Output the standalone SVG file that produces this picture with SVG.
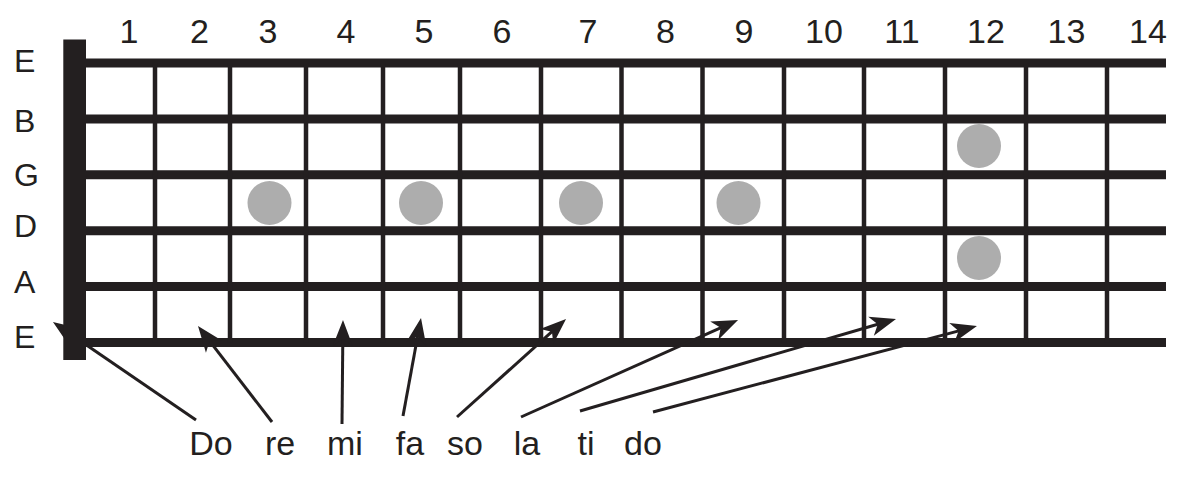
<svg xmlns="http://www.w3.org/2000/svg" width="1200" height="485" viewBox="0 0 1200 485">
<style>
.str{stroke:#231f20;stroke-width:9;fill:none}
.fret{stroke:#231f20;stroke-width:4.5;fill:none}
.dot{fill:#adadad}
.lbl{font-family:"Liberation Sans",Arial,sans-serif;fill:#231f20}
.num{font-size:34px;text-anchor:middle}
.sname{font-size:32px}
.note{font-size:34px;text-anchor:middle}
.arr{stroke:#231f20;stroke-width:3;fill:none;marker-end:url(#ah)}
</style>
<defs>
<marker id="ah" markerUnits="userSpaceOnUse" orient="auto" refX="0" refY="0" markerWidth="40" markerHeight="40" overflow="visible">
<path d="M10,0 L-16,-10 L-9,0 L-16,10 Z" fill="#231f20"/>
</marker>
</defs>
<rect width="1200" height="485" fill="#ffffff"/>
<g id="fret-numbers" class="lbl num">
<text x="129" y="43">1</text>
<text x="199.5" y="43">2</text>
<text x="268" y="43">3</text>
<text x="346" y="43">4</text>
<text x="424" y="43">5</text>
<text x="502" y="43">6</text>
<text x="588" y="43">7</text>
<text x="665.5" y="43">8</text>
<text x="744" y="43">9</text>
<text x="824" y="43">10</text>
<text x="902" y="43">11</text>
<text x="986" y="43">12</text>
<text x="1066.5" y="43">13</text>
<text x="1148" y="43">14</text>
</g>
<g id="string-names" class="lbl sname">
<text x="14" y="71.5">E</text>
<text x="14" y="131.5">B</text>
<text x="14" y="186">G</text>
<text x="14" y="237">D</text>
<text x="14" y="293">A</text>
<text x="14" y="348">E</text>
</g>
<g id="strings">
<line class="str" x1="86" y1="63" x2="1166" y2="63"/>
<line class="str" x1="86" y1="118.9" x2="1166" y2="118.9"/>
<line class="str" x1="86" y1="174.8" x2="1166" y2="174.8"/>
<line class="str" x1="86" y1="230.7" x2="1166" y2="230.7"/>
<line class="str" x1="86" y1="286.6" x2="1166" y2="286.6"/>
<line class="str" x1="86" y1="342.5" x2="1166" y2="342.5"/>
</g>
<g id="frets">
<line class="fret" x1="155" y1="63" x2="155" y2="342.5"/>
<line class="fret" x1="230" y1="63" x2="230" y2="342.5"/>
<line class="fret" x1="306" y1="63" x2="306" y2="342.5"/>
<line class="fret" x1="383" y1="63" x2="383" y2="342.5"/>
<line class="fret" x1="460" y1="63" x2="460" y2="342.5"/>
<line class="fret" x1="541" y1="63" x2="541" y2="342.5"/>
<line class="fret" x1="621.5" y1="63" x2="621.5" y2="342.5"/>
<line class="fret" x1="702.5" y1="63" x2="702.5" y2="342.5"/>
<line class="fret" x1="784" y1="63" x2="784" y2="342.5"/>
<line class="fret" x1="864" y1="63" x2="864" y2="342.5"/>
<line class="fret" x1="945" y1="63" x2="945" y2="342.5"/>
<line class="fret" x1="1026" y1="63" x2="1026" y2="342.5"/>
<line class="fret" x1="1107" y1="63" x2="1107" y2="342.5"/>
</g>
<g id="inlays">
<circle class="dot" cx="269.5" cy="203" r="22"/>
<circle class="dot" cx="421" cy="203" r="22"/>
<circle class="dot" cx="581" cy="203" r="22"/>
<circle class="dot" cx="738.5" cy="203" r="22"/>
<circle class="dot" cx="979" cy="146" r="22"/>
<circle class="dot" cx="979" cy="258" r="22"/>
</g>
<g id="connectors">
<line class="arr" x1="196" y1="420" x2="61.2" y2="327.7"/>
<line class="arr" x1="272" y1="422" x2="204.1" y2="333.9"/>
<line class="arr" x1="342" y1="424" x2="342.9" y2="330"/>
<line class="arr" x1="403" y1="416" x2="419.2" y2="327.8"/>
<line class="arr" x1="457" y1="417" x2="558.6" y2="325.7"/>
<line class="arr" x1="521" y1="417" x2="728.9" y2="324.1"/>
<line class="arr" x1="580" y1="411" x2="886.4" y2="321.8"/>
<line class="arr" x1="653" y1="412" x2="967.3" y2="328.6"/>
</g>
<g id="nut">
<rect x="63.3" y="39.5" width="22.7" height="320.5" fill="#231f20"/>
</g>
<g id="solfege" class="lbl note">
<text x="211" y="455">Do</text>
<text x="280" y="455">re</text>
<text x="345" y="455">mi</text>
<text x="410" y="455">fa</text>
<text x="465" y="455">so</text>
<text x="527" y="455">la</text>
<text x="586" y="455">ti</text>
<text x="643" y="455">do</text>
</g>
</svg>
